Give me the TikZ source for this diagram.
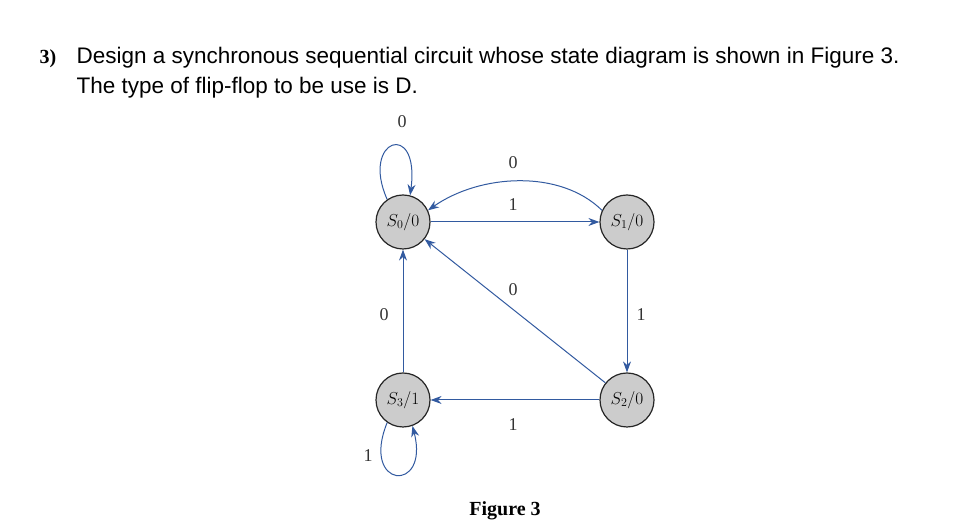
\documentclass[tikz,border=0pt]{standalone}
\usepackage{fontspec}
\setmainfont{Liberation Serif}
\newfontfamily\arialf{Liberation Sans}
\usetikzlibrary{arrows.meta}
\definecolor{edgeblue}{RGB}{50,90,160}
\tikzset{
 st/.style={circle,draw=black!85,line width=1.2pt,fill=gray!40,minimum size=54pt,inner sep=0pt,font=\fontsize{18}{18}\selectfont},
 tr/.style={draw=edgeblue,line width=1pt,-{Stealth[length=11pt,width=8pt]}},
 lb/.style={font=\fontsize{18}{18}\selectfont,text=black!80},
 title/.style={font=\arialf\fontsize{22.5}{26}\selectfont,anchor=base west}
}
\begin{document}
\begin{tikzpicture}[x=1pt,y=1pt]
\useasboundingbox (0,0) rectangle (970,529);
\node[font=\bfseries\fontsize{20}{20}\selectfont,anchor=base west] (num) at (36,465) {3)};
\node[title] (t1) at (73,465) {Design a synchronous sequential circuit whose state diagram is shown in Figure 3.};
\node[title] (t2) at (73,435) {The type of flip-flop to be use is D.};
\node[st] (s0) at (403,307) {$S_0/0$};
\node[st] (s1) at (627,307) {$S_1/0$};
\node[st] (s2) at (627,129) {$S_2/0$};
\node[st] (s3) at (403,129) {$S_3/1$};
\draw[tr] (s0.125) .. controls (360,390) and (420,410) .. (s0.75);
\draw[tr] (s3.-125) .. controls (360,40) and (430,35) .. (s3.-70);
\draw[tr] (s1.155) .. controls (560,360) and (480,355) .. (s0.25);
\draw[tr] (s0) -- (s1);
\draw[tr] (s1) -- (s2);
\draw[tr] (s2) -- (s3);
\draw[tr] (s2) -- (s0);
\draw[tr] (s3) -- (s0);
\node[lb] (l0) at (402,407) {0};
\node[lb] (l1) at (513,366) {0};
\node[lb] (l2) at (513,324) {1};
\node[lb] (l3) at (513,239) {0};
\node[lb] (l4) at (384,214) {0};
\node[lb] (l5) at (641,214) {1};
\node[lb] (l6) at (513,104) {1};
\node[lb] (l7) at (368,73) {1};
\node[font=\bfseries\fontsize{20}{20}\selectfont] (fig) at (505,18) {Figure 3};
\end{tikzpicture}
\end{document}
